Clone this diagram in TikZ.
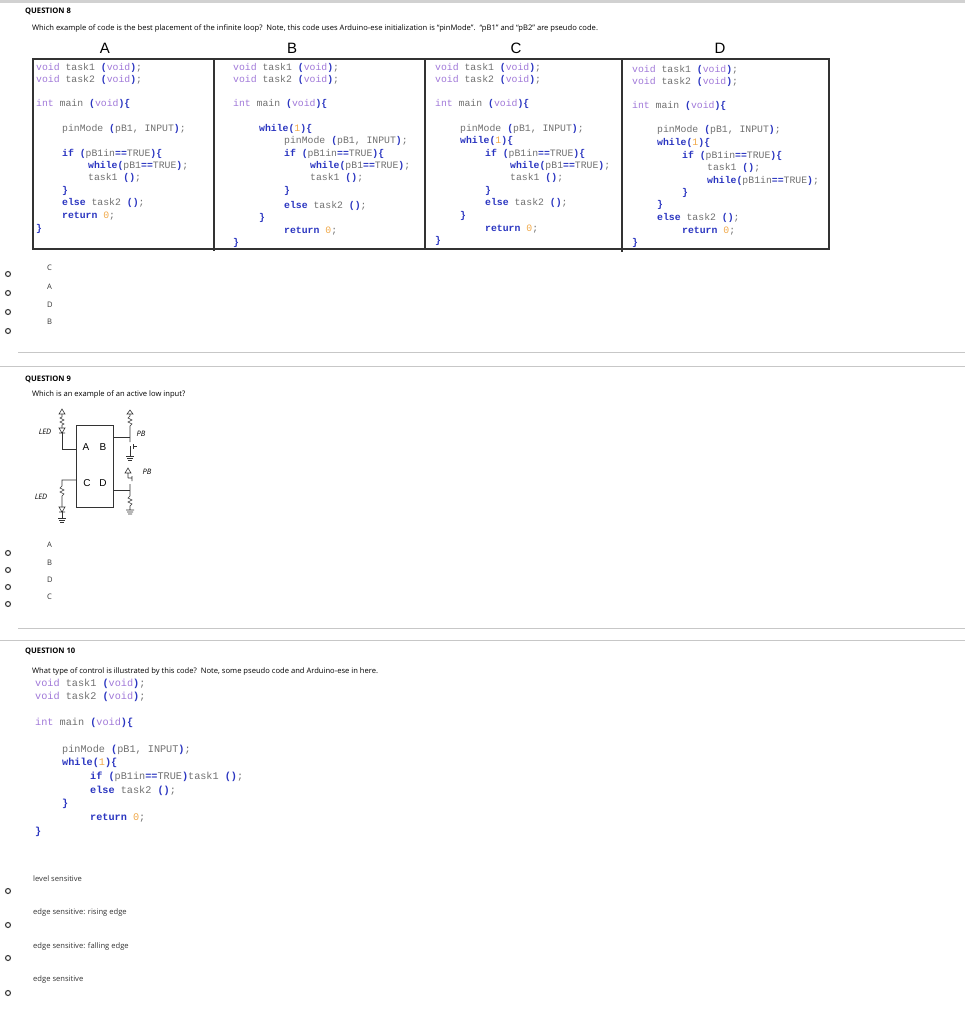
\documentclass[tikz,border=0pt]{standalone}
\usepackage{fontspec}
\setmainfont{Open Sans}
\newfontfamily\codefont{Liberation Mono}
\newfontfamily\arialfont{Liberation Sans}
\definecolor{kwc}{HTML}{2A35C0}
\definecolor{tyc}{HTML}{A078D8}
\definecolor{nmc}{HTML}{F0A848}
\definecolor{txc}{HTML}{707070}
\newcommand\kw[1]{{\color{kwc}\bfseries #1}}
\newcommand\ty[1]{{\color{tyc}#1}}
\newcommand\nm[1]{{\color{nmc}#1}}
\newcommand\pu[1]{{\color{kwc}\bfseries #1}}
\tikzset{
  code/.style={anchor=west,inner sep=0pt,font=\codefont\fontsize{9.8}{10}\selectfont,text=txc},
  bigcode/.style={anchor=west,inner sep=0pt,font=\codefont\fontsize{10.2}{11}\selectfont,text=txc},
  qhead/.style={anchor=west,inner sep=0pt,font=\fontsize{7.6}{8}\selectfont\bfseries},
  qtext/.style={anchor=west,inner sep=0pt,font=\fontsize{7.6}{8}\selectfont},
  opt/.style={anchor=west,inner sep=0pt,font=\fontsize{7.6}{8}\selectfont,text=black!80},
  radio/.style={draw=black!75,line width=1.1pt,circle,minimum size=5pt,inner sep=0pt},
  boxlab/.style={inner sep=0pt,font=\arialfont\fontsize{15}{15}\selectfont},
  sep/.style={draw=black!22,line width=1pt},
  wire/.style={line width=0.6pt,black!80},
  hand/.style={font=\fontsize{7.5}{8}\selectfont\itshape}
}
\newcommand\cl[3]{\node[code] at (#1,#2) {#3};}
\newcommand\bl[3]{\node[bigcode] at (#1,#2) {#3};}
\begin{document}
\begin{tikzpicture}[x=1pt,y=-1pt]
\useasboundingbox (0,0) rectangle (965,1024);
\fill[black!18] (0,0) rectangle (965,3);
\node[qhead] (q8) at (25,11) {QUESTION 8};
\node[qtext] (q8t) at (32,29) {Which example of code is the best placement of the infinite loop?\ \ Note, this code uses Arduino-ese initialization is ``pinMode''.\ \ ``pB1'' and ``pB2'' are pseudo code.};
\node[boxlab] (la) at (105,48) {A};
\node[boxlab] (lb) at (292,48) {B};
\node[boxlab] (lc) at (516,48) {C};
\node[boxlab] (ld) at (720,48) {D};
\draw[line width=1.2pt,black!80] (33,59) rectangle (829,249);
\draw[line width=1.2pt,black!80] (214,59) -- (214,251) (425,59) -- (425,249) (622,59) -- (622,252);
\cl{36}{68}{\ty{void} task1 \pu{(}\ty{void}\pu{)};}
\cl{36}{80}{\ty{void} task2 \pu{(}\ty{void}\pu{)};}
\cl{36}{104}{\ty{int} main \pu{(}\ty{void}\pu{)\{}}
\cl{62}{129}{pinMode \pu{(}pB1, INPUT\pu{)};}
\cl{62}{154}{\kw{if} \pu{(}pB1in\pu{==}TRUE\pu{)\{}}
\cl{88}{166}{\kw{while}\pu{(}pB1\pu{==}TRUE\pu{)};}
\cl{88}{178}{task1 \pu{()};}
\cl{62}{191}{\pu{\}}}
\cl{62}{203}{\kw{else} task2 \pu{()};}
\cl{62}{216}{\kw{return} \nm{0};}
\cl{36}{229}{\pu{\}}}
\cl{233}{68}{\ty{void} task1 \pu{(}\ty{void}\pu{)};}
\cl{233}{80}{\ty{void} task2 \pu{(}\ty{void}\pu{)};}
\cl{233}{104}{\ty{int} main \pu{(}\ty{void}\pu{)\{}}
\cl{259}{129}{\kw{while}\pu{(}\nm{1}\pu{)\{}}
\cl{284}{141}{pinMode \pu{(}pB1, INPUT\pu{)};}
\cl{284}{154}{\kw{if} \pu{(}pB1in\pu{==}TRUE\pu{)\{}}
\cl{310}{166}{\kw{while}\pu{(}pB1\pu{==}TRUE\pu{)};}
\cl{310}{178}{task1 \pu{()};}
\cl{284}{191}{\pu{\}}}
\cl{284}{206}{\kw{else} task2 \pu{()};}
\cl{259}{218}{\pu{\}}}
\cl{284}{231}{\kw{return} \nm{0};}
\cl{233}{243}{\pu{\}}}
\cl{435}{68}{\ty{void} task1 \pu{(}\ty{void}\pu{)};}
\cl{435}{80}{\ty{void} task2 \pu{(}\ty{void}\pu{)};}
\cl{435}{104}{\ty{int} main \pu{(}\ty{void}\pu{)\{}}
\cl{460}{129}{pinMode \pu{(}pB1, INPUT\pu{)};}
\cl{460}{141}{\kw{while}\pu{(}\nm{1}\pu{)\{}}
\cl{485}{154}{\kw{if} \pu{(}pB1in\pu{==}TRUE\pu{)\{}}
\cl{510}{166}{\kw{while}\pu{(}pB1\pu{==}TRUE\pu{)};}
\cl{510}{178}{task1 \pu{()};}
\cl{485}{191}{\pu{\}}}
\cl{485}{203}{\kw{else} task2 \pu{()};}
\cl{460}{216}{\pu{\}}}
\cl{485}{229}{\kw{return} \nm{0};}
\cl{435}{241}{\pu{\}}}
\cl{632}{70}{\ty{void} task1 \pu{(}\ty{void}\pu{)};}
\cl{632}{82}{\ty{void} task2 \pu{(}\ty{void}\pu{)};}
\cl{632}{106}{\ty{int} main \pu{(}\ty{void}\pu{)\{}}
\cl{657}{130}{pinMode \pu{(}pB1, INPUT\pu{)};}
\cl{657}{143}{\kw{while}\pu{(}\nm{1}\pu{)\{}}
\cl{682}{156}{\kw{if} \pu{(}pB1in\pu{==}TRUE\pu{)\{}}
\cl{707}{168}{task1 \pu{()};}
\cl{707}{181}{\kw{while}\pu{(}pB1in\pu{==}TRUE\pu{)};}
\cl{682}{193}{\pu{\}}}
\cl{657}{205}{\pu{\}}}
\cl{657}{218}{\kw{else} task2 \pu{()};}
\cl{682}{231}{\kw{return} \nm{0};}
\cl{632}{243}{\pu{\}}}
\foreach \y/\t/\ly in {274/C/268,293/A/287,312/D/305,331/B/322}{
  \node[radio] at (8,\y) {};
  \node[opt] at (47,\ly) {\t};
}
\draw[sep] (18,352) -- (965,352);
\draw[sep] (0,366) -- (965,366);
\node[qhead] (q9) at (25,379) {QUESTION 9};
\node[qtext] (q9t) at (32,395) {Which is an example of an active low input?};
\draw[wire] (76,425) rectangle (113,507);
\node[font=\arialfont\fontsize{10}{10}\selectfont] (pa) at (86,447) {A};
\node[font=\arialfont\fontsize{10}{10}\selectfont] (pb) at (103,447) {B};
\node[font=\arialfont\fontsize{10}{10}\selectfont] (pc) at (87,483) {C};
\node[font=\arialfont\fontsize{10}{10}\selectfont] (pd) at (103,483) {D};
\draw[wire] (62,409) -- (59,414) -- (65,414) -- cycle;
\draw[wire] (62,414) -- (62,417) -- (60,418) -- (64,420) -- (60,422) -- (64,424) -- (62,425) -- (62,428);
\draw[wire] (59,428) -- (65,428) -- (62,433) -- cycle (59,433) -- (65,433);
\draw[wire] (62,433) -- (62,449) -- (76,449);
\node[hand] (led1) at (45,432) {LED};
\draw[wire] (113,437) -- (130,437);
\draw[wire] (130,410) -- (127,414) -- (133,414) -- cycle;
\draw[wire] (130,414) -- (130,416) -- (128,418) -- (132,420) -- (128,422) -- (132,424) -- (130,426) -- (130,442);
\draw[wire] (130,446) -- (130,456) (126,456) -- (134,456) (127,458) -- (133,458) (128,460) -- (132,460);
\draw[wire] (133,444) -- (133,449) (133,446) -- (137,446);
\node[hand] (pb1) at (141,434) {PB};
\draw[wire] (76,480) -- (62,480) -- (62,486) -- (60,488) -- (64,490) -- (60,492) -- (64,494) -- (62,496) -- (62,507);
\draw[wire] (59,507) -- (65,507) -- (62,512) -- cycle (59,512) -- (65,512);
\draw[wire] (62,512) -- (62,518) (58,518) -- (66,518) (59,520) -- (65,520) (60,522) -- (64,522);
\node[hand] (led2) at (41,497) {LED};
\draw[wire] (113,490) -- (130,490);
\draw[wire] (128,468) -- (125,473) -- (131,473) -- cycle (128,473) -- (128,478) (132,476) -- (132,481) (128,478) -- (132,478);
\draw[wire] (130,484) -- (130,496) -- (128,498) -- (132,500) -- (128,502) -- (132,504) -- (130,506) -- (130,510) (126,510) -- (134,510) (127,512) -- (133,512) (128,514) -- (132,514);
\node[hand] (pb2) at (147,472) {PB};
\foreach \y/\t/\ly in {553/A/545,570/B/563,587/D/580,604/C/597}{
  \node[radio] at (8,\y) {};
  \node[opt] at (47,\ly) {\t};
}
\draw[sep] (18,628) -- (965,628);
\draw[sep] (0,640) -- (965,640);
\node[qhead] (q10) at (25,651) {QUESTION 10};
\node[qtext] (q10t) at (32,671) {What type of control is illustrated by this code?\ \ Note, some pseudo code and Arduino-ese in here.};
\bl{35}{684}{\ty{void} task1 \pu{(}\ty{void}\pu{)};}
\bl{35}{697}{\ty{void} task2 \pu{(}\ty{void}\pu{)};}
\bl{35}{723}{\ty{int} main \pu{(}\ty{void}\pu{)\{}}
\bl{62}{750}{pinMode \pu{(}pB1, INPUT\pu{)};}
\bl{62}{763}{\kw{while}\pu{(}\nm{1}\pu{)\{}}
\bl{90}{777}{\kw{if} \pu{(}pB1in\pu{==}TRUE\pu{)}task1 \pu{()};}
\bl{90}{791}{\kw{else} task2 \pu{()};}
\bl{62}{804}{\pu{\}}}
\bl{90}{818}{\kw{return} \nm{0};}
\bl{35}{832}{\pu{\}}}
\foreach \y/\t/\ly in {891/level sensitive/879,925/edge sensitive: rising edge/913,958/edge sensitive: falling edge/946,993/edge sensitive/980}{
  \node[radio] at (8,\y) {};
  \node[opt] at (33,\ly) {\t};
}
\end{tikzpicture}
\end{document}
